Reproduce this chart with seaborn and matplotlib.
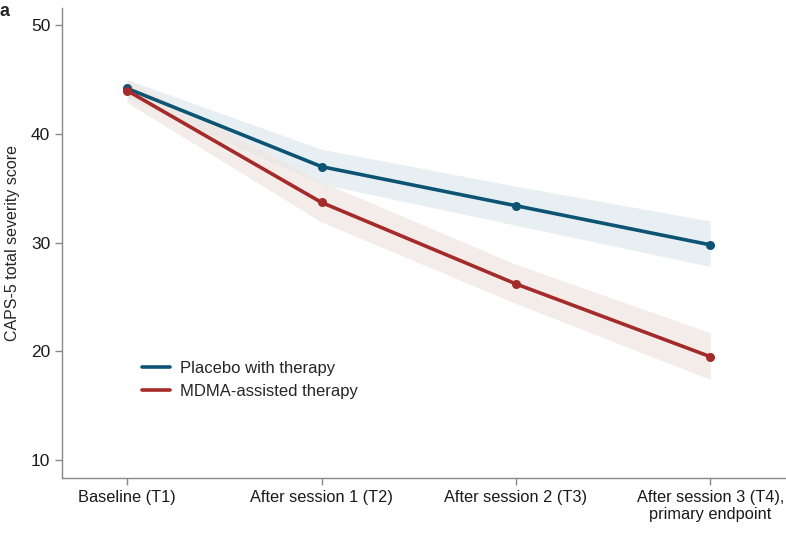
import numpy as np
import pandas as pd
import seaborn as sns
import matplotlib
matplotlib.use("Agg")
import matplotlib.pyplot as plt
from matplotlib.lines import Line2D

# values
timepoints = ["Baseline (T1)", "After session 1 (T2)", "After session 2 (T3)",
              "After session 3 (T4),\nprimary endpoint"]
placebo_mean = [44.2, 37.0, 33.4, 29.8]
placebo_lo = [43.3, 35.4, 31.6, 27.8]
placebo_hi = [45.0, 38.6, 35.2, 32.0]
mdma_mean = [44.0, 33.7, 26.2, 19.5]
mdma_lo = [42.9, 31.9, 24.4, 17.4]
mdma_hi = [45.0, 35.6, 28.0, 21.7]

blue = "#0d5474"
red = "#a52a2a"

sns.set_style("ticks")
plt.rcParams['font.family'] = ['Liberation Sans', 'DejaVu Sans']

df = pd.DataFrame({
    "t": list(range(4)) * 2,
    "score": placebo_mean + mdma_mean,
    "group": ["Placebo with therapy"] * 4 + ["MDMA-assisted therapy"] * 4,
})

fig, ax = plt.subplots(figsize=(7.86, 5.41), dpi=100)
fig.subplots_adjust(left=0.079, right=1.0, top=0.985, bottom=0.117)

x = np.arange(4)
ax.fill_between(x, placebo_lo, placebo_hi, color="#e1eaee", alpha=0.75, lw=0, zorder=1)
ax.fill_between(x, mdma_lo, mdma_hi, color="#efe6e2", alpha=0.75, lw=0, zorder=1)

sns.lineplot(data=df, x="t", y="score", hue="group",
             palette={"Placebo with therapy": blue, "MDMA-assisted therapy": red},
             marker="o", markersize=6.5, markeredgewidth=0, linewidth=2.6,
             ax=ax, legend=False, zorder=3)

ax.set_xlim(-0.335, 3.39)
ax.set_ylim(8.35, 51.6)
ax.set_yticks([10, 20, 30, 40, 50])
ax.set_xticks(x)
ax.set_xticklabels(timepoints)
ax.set_xlabel("")
ax.set_ylabel("CAPS-5 total severity score", fontsize=11.5, labelpad=8)

for s in ["top", "right"]:
    ax.spines[s].set_visible(False)
for s in ["left", "bottom"]:
    ax.spines[s].set_color("#888888")
    ax.spines[s].set_linewidth(1.0)
ax.tick_params(axis="both", colors="#888888", labelcolor="#1a1a1a",
               length=5, width=1, labelsize=11.8)
ax.tick_params(axis="y", labelsize=12.5)

handles = [Line2D([], [], color=blue, lw=2.6), Line2D([], [], color=red, lw=2.6)]
ax.legend(handles, ["Placebo with therapy", "MDMA-assisted therapy"],
          loc="center left", bbox_to_anchor=(0.089, 0.208), frameon=False,
          fontsize=12, handlelength=1.7, handletextpad=0.6, labelspacing=0.45)

fig.text(0.0, 0.995, "a", fontsize=13, fontweight="bold", va="top")

fig.savefig("out.png", dpi=100)
